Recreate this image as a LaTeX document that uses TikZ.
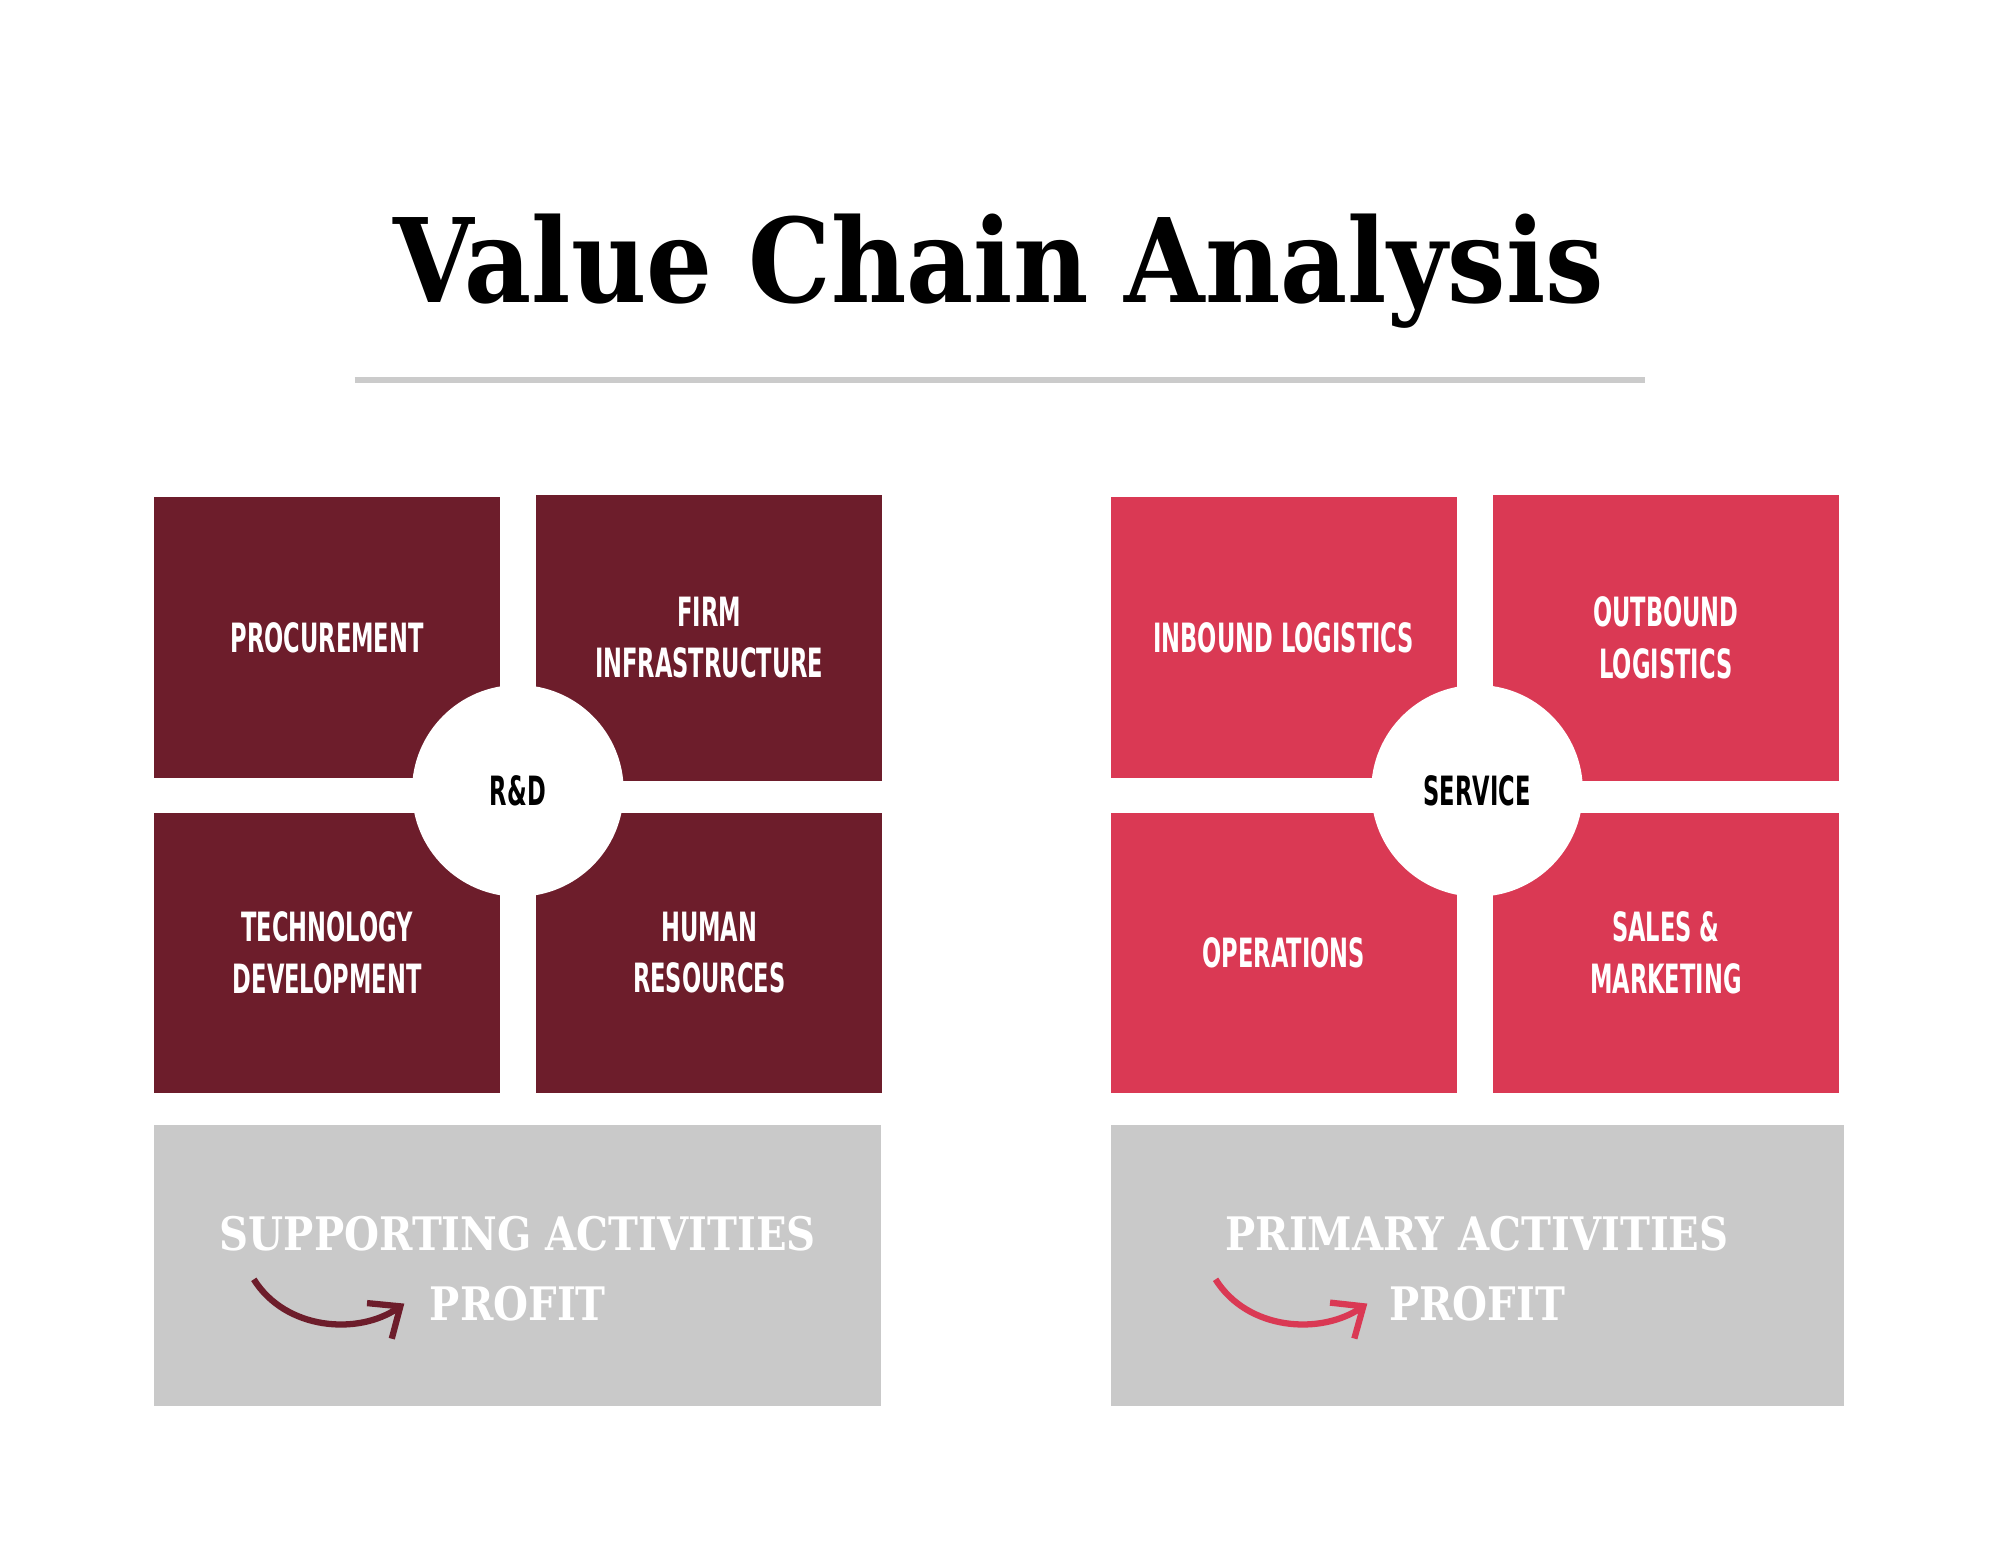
\documentclass[tikz,border=0pt]{standalone}
\usepackage{fontspec}
\usepackage{tikz}
\usetikzlibrary{arrows.meta}
\newfontfamily\titlefont[FakeStretch=0.89]{DejaVu Serif}
\newfontfamily\footfont[FakeStretch=0.87]{DejaVu Serif}
\newfontfamily\boxfont[FakeStretch=0.56]{DejaVu Sans}
\definecolor{wine}{HTML}{6D1D2B}
\definecolor{rose}{HTML}{DA3954}
\definecolor{panelgray}{HTML}{C9C9C9}
\definecolor{rulegray}{HTML}{CBCBCB}

\begin{document}
\begin{tikzpicture}[x=0.1mm, y=-0.1mm,
  tile/.style={minimum width=27.1mm, minimum height=22mm, inner sep=0pt, align=center, text=white, font=\boxfont\bfseries\fontsize{9}{11.4}\selectfont},
  hub/.style={circle, fill=white, minimum size=16.6mm, inner sep=0pt, font=\boxfont\bfseries\fontsize{9}{11.4}\selectfont},
  panel/.style={fill=panelgray, inner sep=0pt, minimum height=22mm},
  footer/.style={anchor=base, text=white, font=\footfont\bfseries\fontsize{10.3}{12}\selectfont},
  curlarrow/.style={line width=1.4pt, -{Straight Barb[length=2mm, width=3.4mm]}}]
  \useasboundingbox (0,0) rectangle (1568,1211);
  \node[anchor=base, font=\titlefont\bfseries\fontsize{26}{30}\selectfont] (title) at (783,237) {Value Chain Analysis};
  \draw[rulegray, line width=0.5mm] (278,298) -- (1290,298);

  \node[tile, fill=wine] (proc) at (256.5,500) {PROCUREMENT};
  \node[tile, fill=wine, minimum height=22.4mm] (firm) at (556,500) {FIRM\\INFRASTRUCTURE};
  \node[tile, fill=wine] (tech) at (256.5,747) {TECHNOLOGY\\DEVELOPMENT};
  \node[tile, fill=wine] (human) at (556,747) {HUMAN\\RESOURCES};
  \node[hub] (rnd) at (406,620) {R\&D};

  \node[tile, fill=rose] (inbound) at (1006.5,500) {INBOUND LOGISTICS};
  \node[tile, fill=rose, minimum height=22.4mm] (outbound) at (1306,500) {OUTBOUND\\LOGISTICS};
  \node[tile, fill=rose] (ops) at (1006.5,747) {OPERATIONS};
  \node[tile, fill=rose] (sales) at (1306,747) {SALES \&\\MARKETING};
  \node[hub] (service) at (1158,620) {SERVICE};

  \node[panel, minimum width=57mm] (spanel) at (406,992) {};
  \node[panel, minimum width=57.5mm] (ppanel) at (1158.5,992) {};
  \node[footer] (sup) at (406,980) {SUPPORTING ACTIVITIES};
  \node[footer] (sprofit) at (406,1035) {PROFIT};
  \node[footer] (prim) at (1158,980) {PRIMARY ACTIVITIES};
  \node[footer] (pprofit) at (1158,1035) {PROFIT};

  \coordinate (sbend) at (199,1003);
  \coordinate (send) at (317,1022);
  \coordinate (pbend) at (953,1003);
  \coordinate (pend) at (1072,1022);
  \draw[curlarrow, wine] (sbend) .. controls (224,1043) and (281,1047) .. (send);
  \draw[curlarrow, rose] (pbend) .. controls (978,1043) and (1035,1047) .. (pend);
\end{tikzpicture}
\end{document}
